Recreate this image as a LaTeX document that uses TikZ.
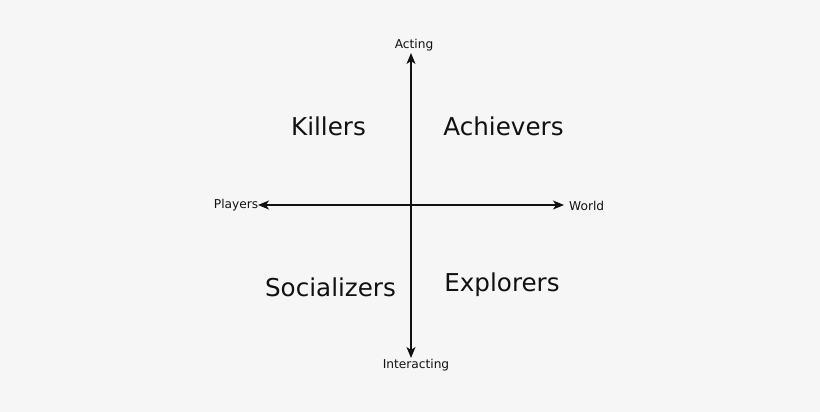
\documentclass[tikz,border=0pt]{standalone}
\usepackage{fontspec}
\setmainfont{DejaVu Sans}
\usetikzlibrary{arrows.meta}
\definecolor{bg}{HTML}{F6F6F6}
\definecolor{ink}{HTML}{111111}
\begin{document}
\begin{tikzpicture}[x=1pt,y=-1pt,
  axis/.style={line width=1.6pt,draw=ink,{Stealth[length=11pt,width=9pt,inset=3pt]}-{Stealth[length=11pt,width=9pt,inset=3pt]}},
  small/.style={font=\fontsize{12.2}{14}\selectfont,text=ink,inner sep=0pt},
  big/.style={font=\fontsize{24.6}{28}\selectfont,text=ink,inner sep=0pt}]
\fill[bg] (0,0) rectangle (820,412);
\useasboundingbox (0,0) rectangle (820,412);
\coordinate (top) at (411,53);
\coordinate (bot) at (411,358);
\coordinate (left) at (258,205);
\coordinate (right) at (564,205);
\draw[axis] (top) -- (bot);
\draw[axis] (left) -- (right);
\node[small] (acting) at (414,45) {Acting};
\node[small] (interacting) at (416,365.5) {Interacting};
\node[small,anchor=east] (players) at (258.5,205.5) {Players};
\node[small,anchor=west] (world) at (569,206) {World};
\node[big] (killers) at (328.5,126.5) {Killers};
\node[big] (achievers) at (503.5,126.5) {Achievers};
\node[big] (socializers) at (330.5,287) {Socializers};
\node[big] (explorers) at (502,285) {Explorers};
\end{tikzpicture}
\end{document}
